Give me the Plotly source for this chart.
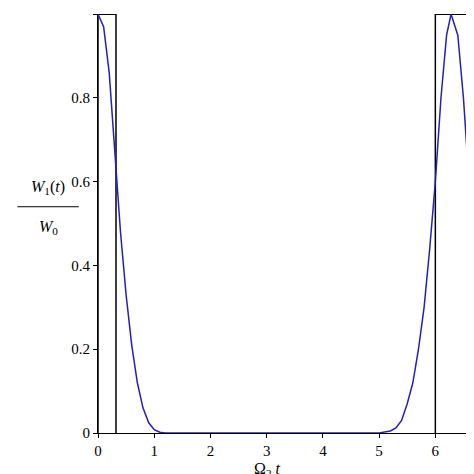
import plotly.graph_objects as go

# curve values
t_vals = [0, 0.1, 0.2, 0.3, 0.4, 0.5, 0.6, 0.7, 0.8, 0.9, 1.0, 1.1, 1.2, 2.0, 3.0, 4.0, 5.0,
          5.2, 5.3, 5.4, 5.5, 5.6, 5.7, 5.8, 5.9, 6.0, 6.1, 6.2, 6.28, 6.4, 6.5, 6.6, 6.7, 6.83]
w_vals = [1.0, 0.97, 0.86, 0.66, 0.48, 0.33, 0.21, 0.12, 0.06, 0.025, 0.008, 0.002, 0, 0, 0, 0, 0,
          0.005, 0.012, 0.03, 0.07, 0.12, 0.2, 0.3, 0.44, 0.6, 0.8, 0.95, 1.0, 0.95, 0.8, 0.6, 0.44, 0.29]
# rectangular pulses
rect_x = [0, 0, 0.32, 0.32, None, 6.0, 6.0, 6.63, 6.63]
rect_y = [0, 1, 1, 0, None, 0, 1, 1, 0]

fig = go.Figure()
fig.add_trace(go.Scatter(x=rect_x, y=rect_y, mode="lines", line=dict(color="black", width=1.5)))
fig.add_trace(go.Scatter(x=t_vals, y=w_vals, mode="lines", line=dict(color="#2020c0", width=1.5)))

font = dict(family="Liberation Serif", size=15, color="black")
fig.update_layout(
    width=474, height=474, showlegend=False,
    margin=dict(l=90, r=0, t=6, b=49, autoexpand=False),
    plot_bgcolor="white", paper_bgcolor="white", font=font,
    xaxis=dict(range=[0, 6.83], tickvals=[0, 1, 2, 3, 4, 5, 6], showgrid=False, zeroline=False,
               showline=True, linecolor="black", ticks="outside", ticklen=4, tickcolor="black"),
    yaxis=dict(range=[0, 1.0005], tickvals=[0, 0.2, 0.4, 0.6, 0.8, 1.0], ticktext=["0", "0.2", "0.4", "0.6", "0.8", "1.0"],
               showgrid=False, zeroline=False, showline=True, linecolor="black",
               ticks="outside", ticklen=4, tickcolor="black"),
)
fig.add_annotation(text="<i>W</i><sub>1</sub>(<i>t</i>)", xref="paper", yref="paper", x=-0.13, y=0.585,
                   showarrow=False, xanchor="center", font=dict(family="Liberation Serif", size=16))
fig.add_annotation(text="<i>W</i><sub>0</sub>", xref="paper", yref="paper", x=-0.13, y=0.49,
                   showarrow=False, xanchor="center", font=dict(family="Liberation Serif", size=16))
fig.add_shape(type="line", xref="paper", yref="paper", x0=-0.21, x1=-0.05, y0=0.54, y1=0.54,
              line=dict(color="black", width=1))
fig.add_annotation(text="Ω<sub>2</sub> <i>t</i>", xref="paper", yref="paper", x=0.44, y=-0.06,
                   showarrow=False, yanchor="top", font=dict(family="Liberation Serif", size=16))
fig.write_html("out.html")
